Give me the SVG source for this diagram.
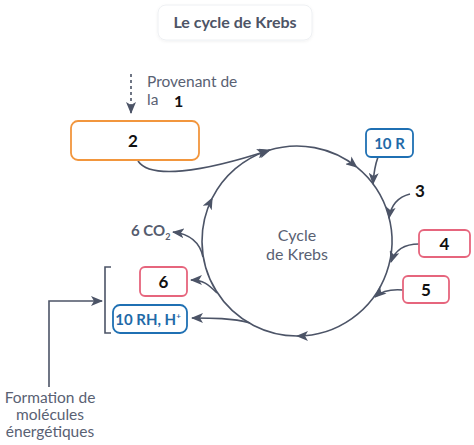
<svg xmlns="http://www.w3.org/2000/svg" width="474" height="445" viewBox="0 0 474 445">
<style>
.t{font-family:Lato,"Open Sans","Liberation Sans",sans-serif;fill:#596173;font-size:15.5px}
.b{font-family:Lato,"Open Sans","Liberation Sans",sans-serif;font-weight:bold;fill:#111;font-size:17px}
.bl{font-family:Lato,"Open Sans","Liberation Sans",sans-serif;font-weight:bold;fill:#1f6aa8;font-size:15px}
.ln{fill:none;stroke:#4c5467;stroke-width:1.6}
.pk{fill:#fff;stroke:#e6657d;stroke-width:1.8}
.bx{fill:#fff;stroke:#1f70b3;stroke-width:1.8}
</style>
<defs>
<marker id="ah" markerUnits="userSpaceOnUse" viewBox="0 0 12 10" refX="11" refY="5" markerWidth="12" markerHeight="10" orient="auto">
<path d="M0,0 L12,5 L0,10 L3,5 Z" fill="#4c5467"/>
</marker>
<filter id="sh" x="-10%" y="-30%" width="120%" height="160%">
<feDropShadow dx="0" dy="1" stdDeviation="1.5" flood-color="#000" flood-opacity="0.06"/>
</filter>
</defs>
<rect width="474" height="445" fill="#fff"/>
<g id="title">
<rect x="158" y="5" width="154" height="35" rx="8" fill="#fff" stroke="#eef0f3" stroke-width="1" filter="url(#sh)"/>
<text x="235" y="28" text-anchor="middle" class="t" style="font-weight:bold;fill:#4d5466;font-size:16px">Le cycle de Krebs</text>
</g>
<g id="connectors">
<path class="ln" d="M131,74 V113" stroke-dasharray="3,3" marker-end="url(#ah)"/>
<path class="ln" d="M297,336 A95,95 0 0 1 212.2,198.2" marker-end="url(#ah)"/>
<path class="ln" d="M212.2,198.2 A95,95 0 0 1 268.1,150.5" marker-end="url(#ah)"/>
<path class="ln" d="M268.1,150.5 A95,95 0 0 1 356.8,167.2" marker-end="url(#ah)"/>
<path class="ln" d="M356.8,167.2 A95,95 0 0 1 297,336" marker-end="url(#ah)"/>
<path class="ln" d="M138,161 C150,179 200,173 270,150" marker-end="url(#ah)"/>
<path class="ln" d="M378,157 Q374,168 373,184" marker-end="url(#ah)"/>
<path class="ln" d="M410,194 C398,197 391,205 389,218" marker-end="url(#ah)"/>
<path class="ln" d="M419,244 C405,244 395,250 391,262" marker-end="url(#ah)"/>
<path class="ln" d="M403,290 C392,289 383,290 375,297" marker-end="url(#ah)"/>
<path class="ln" d="M203,257 C200,243 190,234 173,232" marker-end="url(#ah)"/>
<path class="ln" d="M217,293 C208,284 203,280 191,280" marker-end="url(#ah)"/>
<path class="ln" d="M250,323 C232,318 212,318 192,318" marker-end="url(#ah)"/>
<path class="ln" d="M111,267 H105 V333 H111"/>
<path class="ln" d="M49,387 V301 H102" marker-end="url(#ah)"/>
</g>
<g id="source">
<text x="147" y="87" class="t">Provenant de</text>
<text x="147" y="105" class="t">la</text>
<text x="174" y="107" class="b" style="font-size:16px">1</text>
</g>
<g id="node2">
<rect x="71" y="121" width="128" height="39" rx="7" fill="#fff" stroke="#f2963d" stroke-width="1.8"/>
<text x="133" y="147" text-anchor="middle" class="b">2</text>
</g>
<g id="cycle">
<text x="297" y="241" text-anchor="middle" class="t" style="font-size:16px">Cycle</text>
<text x="297" y="260" text-anchor="middle" class="t" style="font-size:16px">de Krebs</text>
</g>
<g id="node10R">
<rect x="366" y="129" width="47" height="28" rx="5" class="bx"/>
<text x="389.5" y="149" text-anchor="middle" class="bl">10 R</text>
</g>
<g id="node3">
<text x="420" y="197" text-anchor="middle" class="b">3</text>
</g>
<g id="node4">
<rect x="419" y="230" width="51" height="27" rx="5" class="pk"/>
<text x="444.5" y="250" text-anchor="middle" class="b">4</text>
</g>
<g id="node5">
<rect x="403" y="276" width="46" height="27" rx="5" class="pk"/>
<text x="426" y="296" text-anchor="middle" class="b">5</text>
</g>
<g id="co2">
<text x="131" y="236" class="t" style="font-weight:bold;fill:#555c6e;font-size:15px">6 CO<tspan dy="4" font-size="9">2</tspan></text>
</g>
<g id="node6">
<rect x="140" y="267" width="47" height="29" rx="5" class="pk"/>
<text x="163.5" y="288" text-anchor="middle" class="b">6</text>
</g>
<g id="node10RH">
<rect x="113" y="305" width="74" height="28" rx="7" class="bx"/>
<text x="148" y="325" text-anchor="middle" class="bl">10 RH, H<tspan dy="-6" font-size="8">+</tspan></text>
</g>
<g id="formation">
<text x="50" y="403" text-anchor="middle" class="t">Formation de</text>
<text x="50" y="420" text-anchor="middle" class="t">molécules</text>
<text x="50" y="437" text-anchor="middle" class="t">énergétiques</text>
</g>
</svg>
